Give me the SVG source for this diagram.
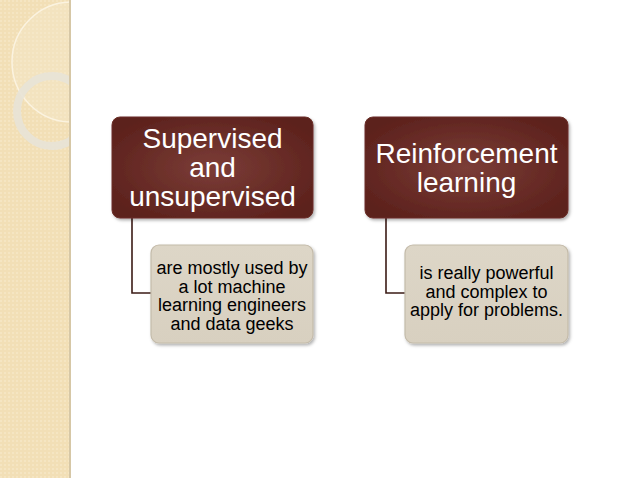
<svg xmlns="http://www.w3.org/2000/svg" width="638" height="478" viewBox="0 0 638 478">
<defs>
<pattern id="dots" width="4" height="4" patternUnits="userSpaceOnUse">
<rect width="4" height="4" fill="#F2DFB6"/>
<rect width="2" height="2" fill="#F5E5C2"/>
</pattern>
<radialGradient id="brown" cx="50%" cy="50%" r="60%">
<stop offset="0" stop-color="#7B3D37"/>
<stop offset="1" stop-color="#5C211C"/>
</radialGradient>
<linearGradient id="light" x1="0" y1="0" x2="0" y2="1">
<stop offset="0" stop-color="#DDD6C7"/>
<stop offset="1" stop-color="#D8D0C0"/>
</linearGradient>
<clipPath id="band"><rect x="0" y="0" width="70" height="478"/></clipPath>
<filter id="sh" x="-10%" y="-10%" width="130%" height="130%">
<feDropShadow dx="1.5" dy="2" stdDeviation="1.5" flood-color="#000" flood-opacity="0.3"/>
</filter>
</defs>
<style>
.title{font-family:"Liberation Sans",Arial,sans-serif;font-size:28px;fill:#FFFFFF;text-anchor:middle}
.sub{font-family:"Liberation Sans",Arial,sans-serif;font-size:18px;fill:#000000;text-anchor:middle}
.dark{fill:url(#brown);stroke:#6A2E28;stroke-width:1}
.lightbox{fill:url(#light);stroke:#C4BBAA;stroke-width:1.2}
.conn{fill:none;stroke:#3B1B16;stroke-width:1.6}
</style>
<rect width="638" height="478" fill="#FFFFFF"/>
<g id="background">
<rect x="0" y="0" width="70" height="478" fill="url(#dots)"/>
<g clip-path="url(#band)">
<circle cx="72" cy="62" r="60" fill="#F7EBD2" fill-opacity="0.35" stroke="#FBF3E0" stroke-width="1.5"/>
<circle cx="52" cy="111" r="35" fill="none" stroke="#E8E3D7" stroke-width="8" stroke-opacity="0.9"/>
</g>
<rect x="69" y="0" width="2" height="478" fill="#D6C7A6"/>
</g>
<g id="connectors">
<path class="conn" d="M132,218 V293 H151"/>
<path class="conn" d="M386,218 V293 H405"/>
</g>
<g id="node-supervised">
<rect class="dark" x="112" y="117" width="201" height="101" rx="8" filter="url(#sh)"/>
<text class="title" x="212.5" y="148">Supervised</text>
<text class="title" x="212.5" y="177">and</text>
<text class="title" x="212.5" y="206">unsupervised</text>
</g>
<g id="node-reinforcement">
<rect class="dark" x="365" y="117" width="203" height="101" rx="8" filter="url(#sh)"/>
<text class="title" x="466.5" y="163">Reinforcement</text>
<text class="title" x="466.5" y="192">learning</text>
</g>
<g id="node-supervised-desc">
<rect class="lightbox" x="151" y="245" width="162" height="98" rx="8" filter="url(#sh)"/>
<text class="sub" x="232" y="274">are mostly used by</text>
<text class="sub" x="232" y="292.5">a lot machine</text>
<text class="sub" x="232" y="311">learning engineers</text>
<text class="sub" x="232" y="329.5">and data geeks</text>
</g>
<g id="node-reinforcement-desc">
<rect class="lightbox" x="405" y="245" width="163" height="98" rx="8" filter="url(#sh)"/>
<text class="sub" x="486.5" y="279">is really powerful</text>
<text class="sub" x="486.5" y="297.5">and complex to</text>
<text class="sub" x="486.5" y="316">apply for problems.</text>
</g>
</svg>
